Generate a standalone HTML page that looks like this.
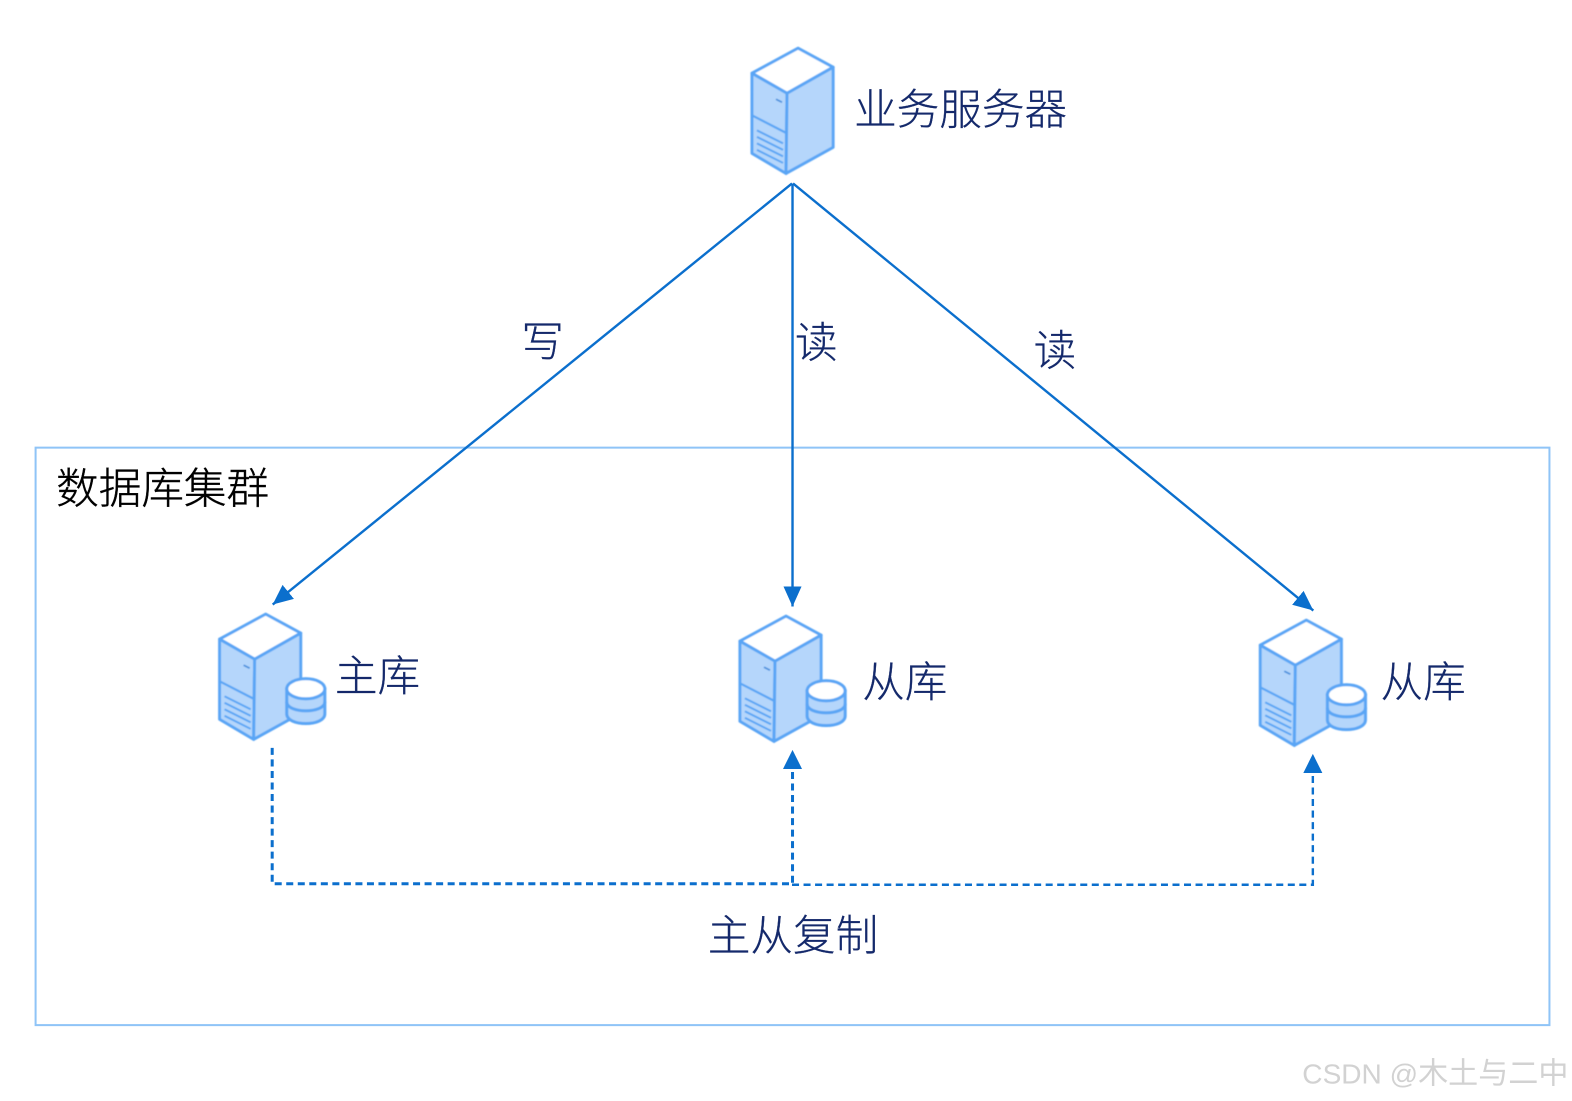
<!DOCTYPE html>
<html><head><meta charset="utf-8"><style>
html,body{margin:0;padding:0;background:#fff;overflow:hidden}
svg{display:block}
text{font-family:"Liberation Sans","Noto Sans CJK SC",sans-serif;font-weight:300}
.t{fill:#14296b;font-size:42.500px;stroke:#14296b;stroke-width:.25px}
</style></head><body>
<svg width="1572" height="1101" viewBox="0 0 1568 1098.200" xmlns="http://www.w3.org/2000/svg">
<defs>
<filter id="b" x="-5%" y="-5%" width="110%" height="110%"><feGaussianBlur stdDeviation="0.500"/></filter>
<g id="srv" stroke="#5aa5f5" stroke-width="2.900" stroke-linejoin="round" fill="none">
<path d="M3 26 L49 1 L84 20 L38 46Z" fill="#fff"/>
<path d="M3 26 L38 46 L37 126 L3 106Z" fill="#b5d6fb"/>
<path d="M38 46 L84 20 L84 100 L37 126Z" fill="#b5d6fb"/>
<path d="M3 68 L38 86" stroke-width="2.200"/>
<path d="M8 83 L34 96 M8 89.500 L34 102.500 M8 96 L34 109 M8 102.500 L34 115.500" stroke-width="1.900"/>
<path d="M27 52 L33 55" stroke-width="1.700" stroke="#4a90dd"/>
</g>
<g id="db" stroke="#5aa5f5" stroke-width="3" fill="#b5d6fb">
<path d="M0 10 V35 C0 48 38 48 38 35 V10Z" fill="#b5d6fb"/>
<path d="M0 23 C0 35 38 35 38 23" fill="none"/>
<ellipse cx="19" cy="10" rx="19" ry="10" fill="#fff"/>
</g>
<marker id="a" viewBox="0 0 10 10" refX="10" refY="5" markerWidth="20" markerHeight="20" markerUnits="userSpaceOnUse" orient="auto"><path d="M0 0.500 L10 5 L0 9.500Z" fill="#0b6fcd"/></marker>
</defs>

<rect x="35.500" y="446.500" width="1510" height="576" fill="#fff" stroke="#8fc4f7" stroke-width="2"/>

<g stroke="#0b6fcd" stroke-width="2.400" fill="none">
<path d="M790 183 L272 603" marker-end="url(#a)"/>
<path d="M790.500 183 V605" marker-end="url(#a)"/>
<path d="M791 183 L1310 609" marker-end="url(#a)"/>
</g>
<g stroke="#0b6fcd" stroke-width="2.400" fill="none" stroke-dasharray="7 4.500">
<path d="M271.500 746 V881.500 H790.500 V769" stroke-width="3"/>
<path d="M790 882.500 H1309.500 V772"/>
</g>
<path d="M781 767 L790.500 748 L800 767Z" fill="#0b6fcd"/>
<path d="M1300 771 L1309.500 752 L1319 771Z" fill="#0b6fcd"/>

<g filter="url(#b)">
<use href="#srv" x="747" y="47"/>
<use href="#srv" x="216" y="611.500"/>
<use href="#srv" x="735" y="613.500"/>
<use href="#srv" x="1254" y="617.500"/>
<use href="#db" x="286" y="677"/>
<use href="#db" x="805" y="679"/>
<use href="#db" x="1324" y="683"/>
</g>

<text class="t" x="852" y="124">业务服务器</text>
<text class="t" x="520" y="355.500">写</text>
<text class="t" x="793" y="356.500">读</text>
<text class="t" x="1031" y="364.500">读</text>
<text x="56" y="502" style="font-size:42.500px;fill:#000;stroke:#000;stroke-width:.4px">数据库集群</text>
<text class="t" x="334" y="689">主库</text>
<text class="t" x="860" y="695">从库</text>
<text class="t" x="1377" y="695">从库</text>
<text class="t" x="706" y="948">主从复制</text>
<text x="1299" y="1080.500" style="fill:#d2d2d2;font-weight:400"><tspan style="font-size:28px">CSDN @</tspan><tspan style="font-size:30px">木土与二中</tspan></text>
</svg>
</body></html>
